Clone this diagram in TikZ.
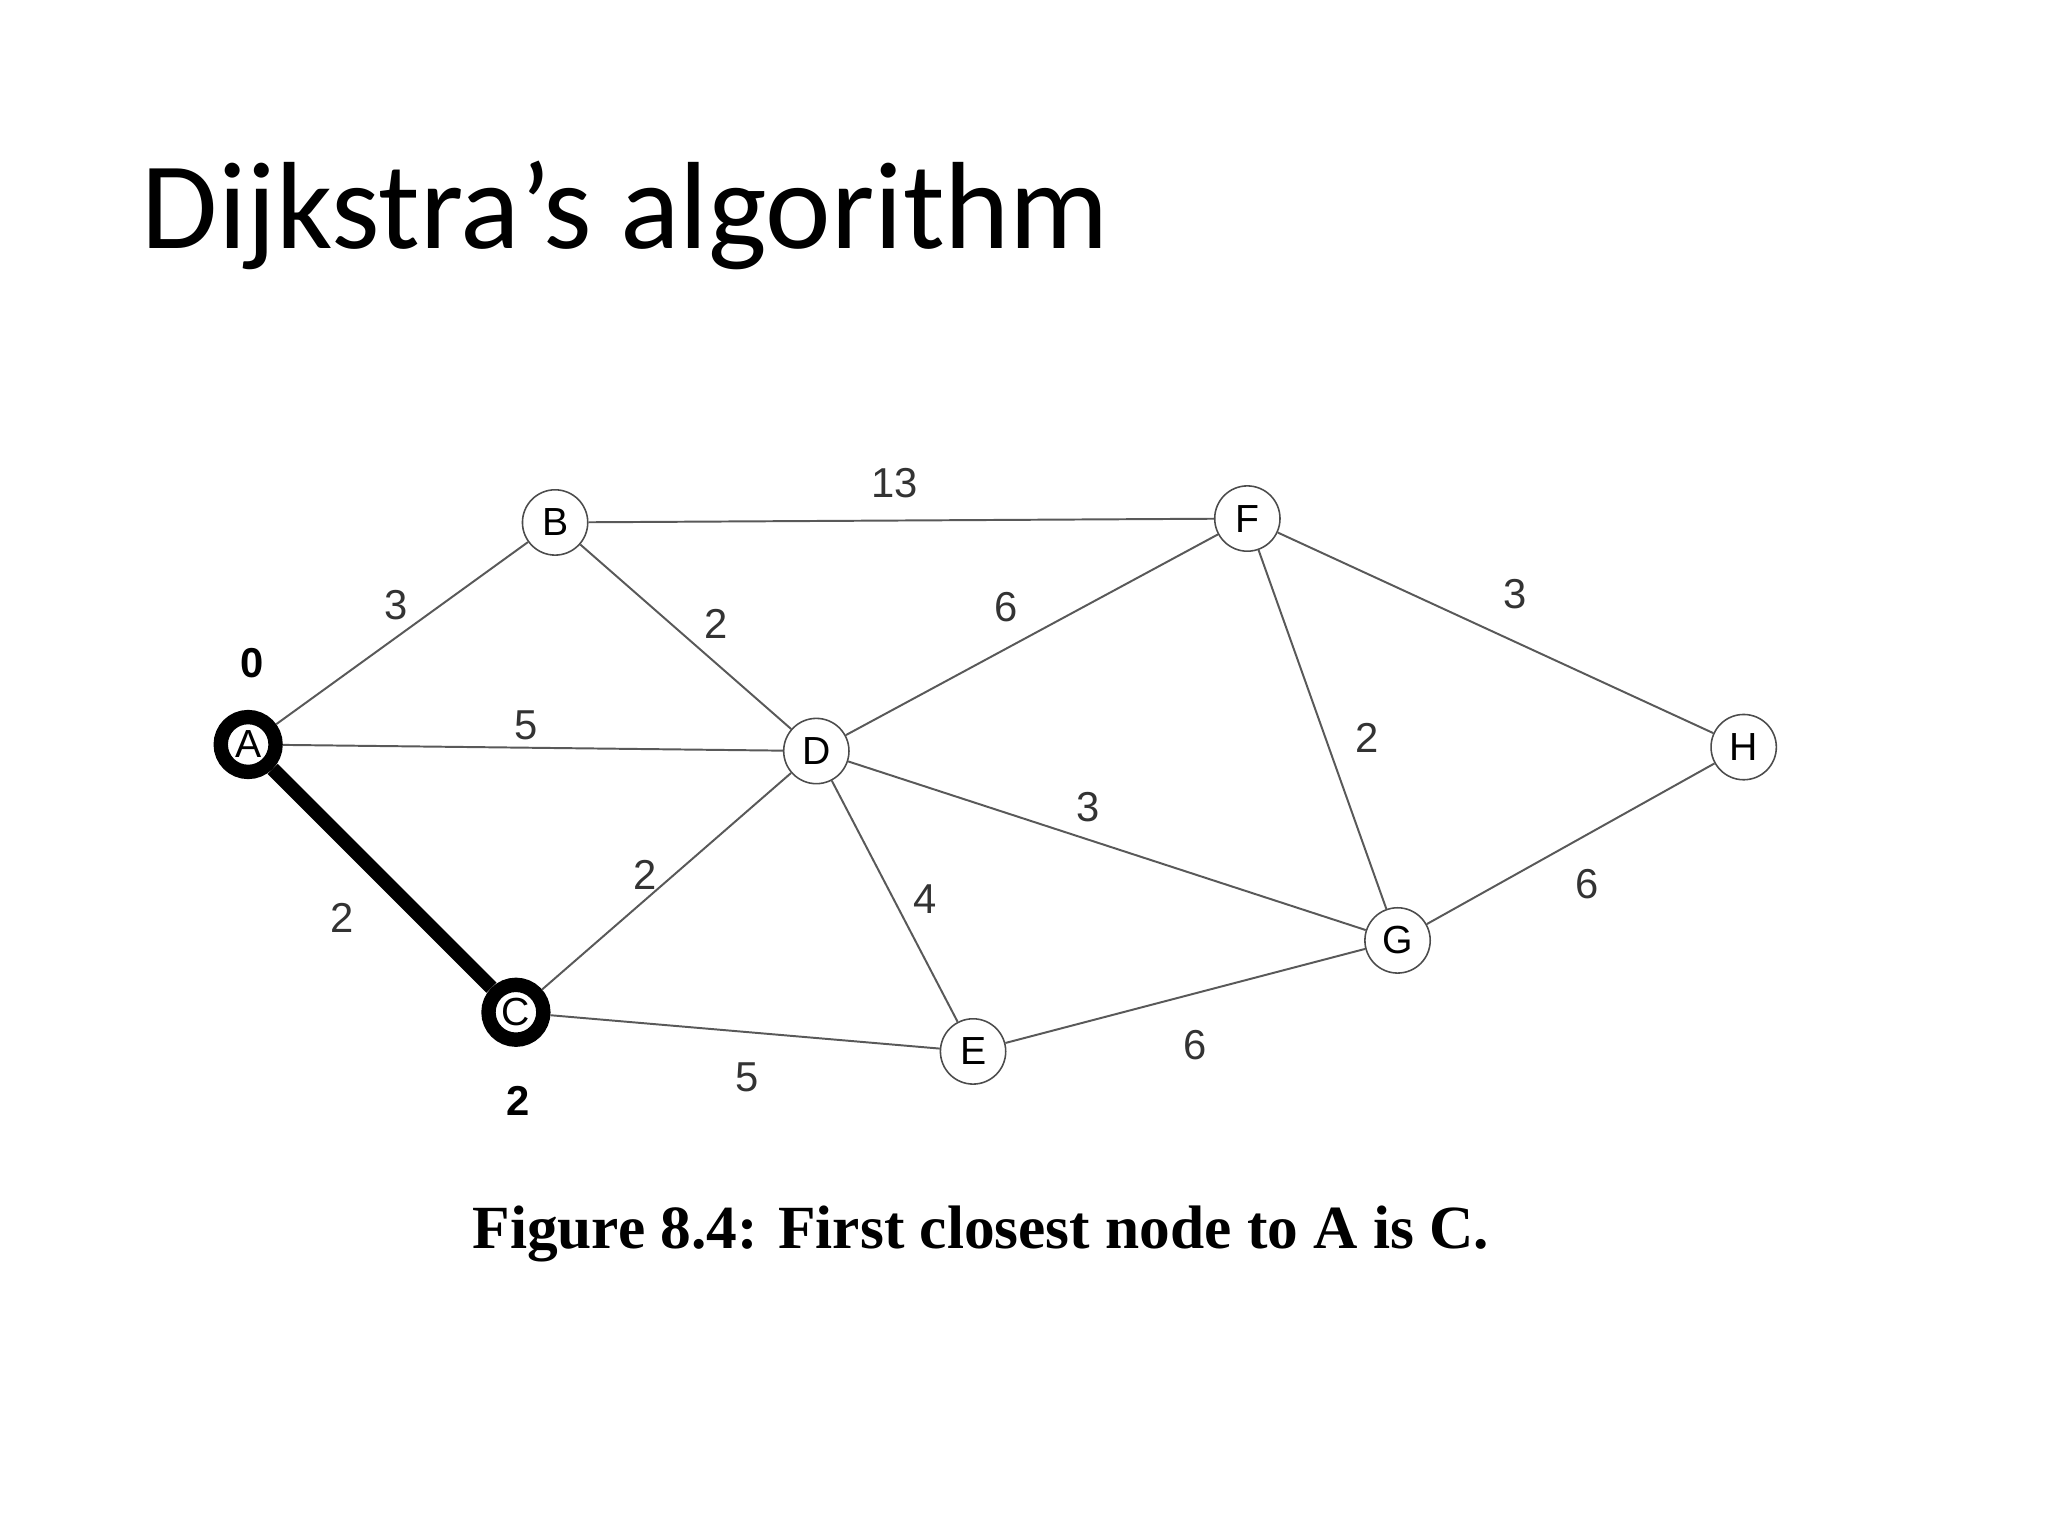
\documentclass[tikz,border=0pt]{standalone}
\usepackage{fontspec}
\setmainfont{Liberation Serif}
\newfontfamily\titlefont{Carlito}
\newfontfamily\labfont{Liberation Sans}
\begin{document}
\begin{tikzpicture}[x=1pt,y=-1pt,
  vert/.style={circle,draw=black!70,fill=white,line width=1.2pt,minimum size=50pt,inner sep=0pt,font=\labfont\fontsize{30}{30}\selectfont},
  hot/.style={vert,draw=black,line width=11pt,minimum size=42pt},
  edge/.style={draw=black!65,line width=1.5pt},
  wl/.style={font=\labfont\fontsize{32}{32}\selectfont,text=black!80},
  dl/.style={font=\labfont\bfseries\fontsize{32}{32}\selectfont}]
\useasboundingbox (0,0) rectangle (1568,1176);
\fill[white] (0,0) rectangle (1568,1176);
\node[anchor=base west,font=\titlefont\fontsize{95}{95}\selectfont] (title) at (105,190) {Dijkstra’s algorithm};
\node[vert] (B) at (425,400) {B};
\node[vert] (D) at (625,575) {D};
\node[vert] (E) at (745,805) {E};
\node[vert] (F) at (955,397) {F};
\node[vert] (G) at (1070,720) {G};
\node[vert] (H) at (1335,572) {H};
\node[hot] (A) at (190,570) {A};
\node[hot] (C) at (395,775) {C};
\path[edge] (A) -- (B);
\path[edge] (A) -- (D);
\path[edge] (B) -- (D);
\path[edge] (B) -- (F);
\path[edge] (D) -- (F);
\path[edge] (F) -- (H);
\path[edge] (F) -- (G);
\path[edge] (D) -- (G);
\path[edge] (D) -- (C);
\path[edge] (D) -- (E);
\path[edge] (C) -- (E);
\path[edge] (E) -- (G);
\path[edge] (G) -- (H);
\draw[line width=11pt] (A) -- (C);
\node[wl] (l1) at (303,463) {3};
\node[wl] (l2) at (548,478) {2};
\node[wl] (l3) at (403,555) {5};
\node[wl] (l4) at (685,370) {13};
\node[wl] (l5) at (770,465) {6};
\node[wl] (l6) at (1160,455) {3};
\node[wl] (l7) at (1047,565) {2};
\node[wl] (l8) at (833,618) {3};
\node[wl] (l9) at (494,670) {2};
\node[wl] (l10) at (708,688) {4};
\node[wl] (l11) at (262,703) {2};
\node[wl] (l12) at (572,825) {5};
\node[wl] (l13) at (915,800) {6};
\node[wl] (l14) at (1215,677) {6};
\node[dl] (d0) at (193,508) {0};
\node[dl] (d2) at (397,843) {2};
\node[font=\bfseries\fontsize{47}{47}\selectfont] (cap) at (751,945) {Figure 8.4: First closest node to A is C.};
\end{tikzpicture}
\end{document}
